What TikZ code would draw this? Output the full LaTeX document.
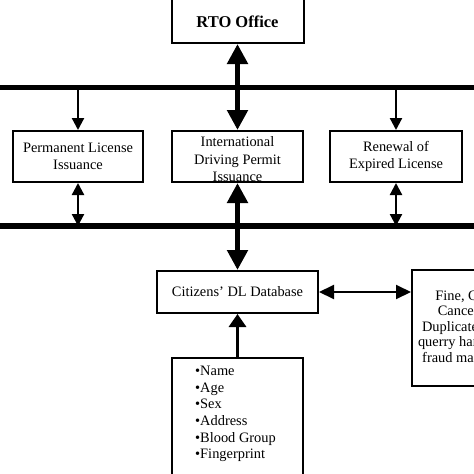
\documentclass[tikz,border=0pt]{standalone}
\usepackage{fontspec}
\setmainfont{Liberation Serif}
\usetikzlibrary{arrows.meta}

\begin{document}
\begin{tikzpicture}[x=1pt, y=-1pt,
    box/.style={draw, line width=2pt, fill=white, inner sep=0pt},
    txt/.style={font=\fontsize{14.4}{17.5}\selectfont, align=center, inner sep=0pt},
    bus/.style={line width=5.5pt},
    link/.style={line width=2.2pt, >={Triangle[length=12pt,width=12pt]}},
    mainlink/.style={line width=5.5pt, >={Triangle[length=20pt,width=20pt]}},
    feedlink/.style={line width=3.5pt, >={Triangle[length=13pt,width=17pt]}},
    sidelink/.style={line width=2pt, >={Triangle[length=15pt,width=14pt]}}]
    \fill[white] (0,0) rectangle (474,474);
    \clip (0,0) rectangle (474,474);

    \node[box, txt, font=\fontsize{16.5}{19}\selectfont\bfseries, minimum width=132pt,
        text height=40pt, text depth=16pt, anchor=south] (rto) at (237.5,44) {RTO Office};

    \node[box, txt, minimum width=130pt, minimum height=51pt] (perm) at (78,156.5) {Permanent License\\Issuance};
    \node[box, minimum width=131pt, minimum height=51pt] (idp) at (237.5,156.5) {};
    \node[txt] (idptext) at (237.5,159.5) {International\\Driving Permit\\Issuance};
    \node[box, txt, minimum width=132pt, minimum height=51pt] (renew) at (396,156.5) {Renewal of\\Expired License};

    \node[box, txt, minimum width=161pt, minimum height=42pt] (cdb) at (237.5,292) {Citizens' DL Database};
    \node[box, minimum width=128pt, minimum height=116pt] (fine) at (476,328) {};
    \node[txt, font=\fontsize{14.4}{15.5}\selectfont] (finetext) at (476,328) {Fine, Challan,\\Cancellation,\\Duplicate License,\\querry handling and\\fraud management};

    \node[box, minimum width=131pt, minimum height=130pt, anchor=north] (attr) at (237.5,357) {};
    \node[txt, font=\fontsize{14.4}{16.6}\selectfont, align=left, anchor=north west] (attrtext) at (195,366)
        {•Name\\•Age\\•Sex\\•Address\\•Blood Group\\•Fingerprint};

    \coordinate (tap1) at (78,87.5);
    \coordinate (tap3) at (396,87.5);
    \coordinate (tap4) at (78,226);
    \coordinate (tap6) at (396,226);

    \draw[link, ->] (tap1) -- (perm.north);
    \draw[link, ->] (tap3) -- (renew.north);
    \draw[link, <->] (perm.south) -- (tap4);
    \draw[link, <->] (renew.south) -- (tap6);

    \draw[bus] (-5,87.5) -- (480,87.5);
    \draw[bus] (-5,226) -- (480,226);

    \draw[mainlink, <->] (rto.south) -- (idp.north);
    \draw[mainlink, <->] (idp.south) -- (cdb.north);
    \draw[feedlink, ->] (attr.north) -- (cdb.south);
    \draw[sidelink, <->] (cdb.east) -- (cdb.east -| fine.west);
\end{tikzpicture}
\end{document}
